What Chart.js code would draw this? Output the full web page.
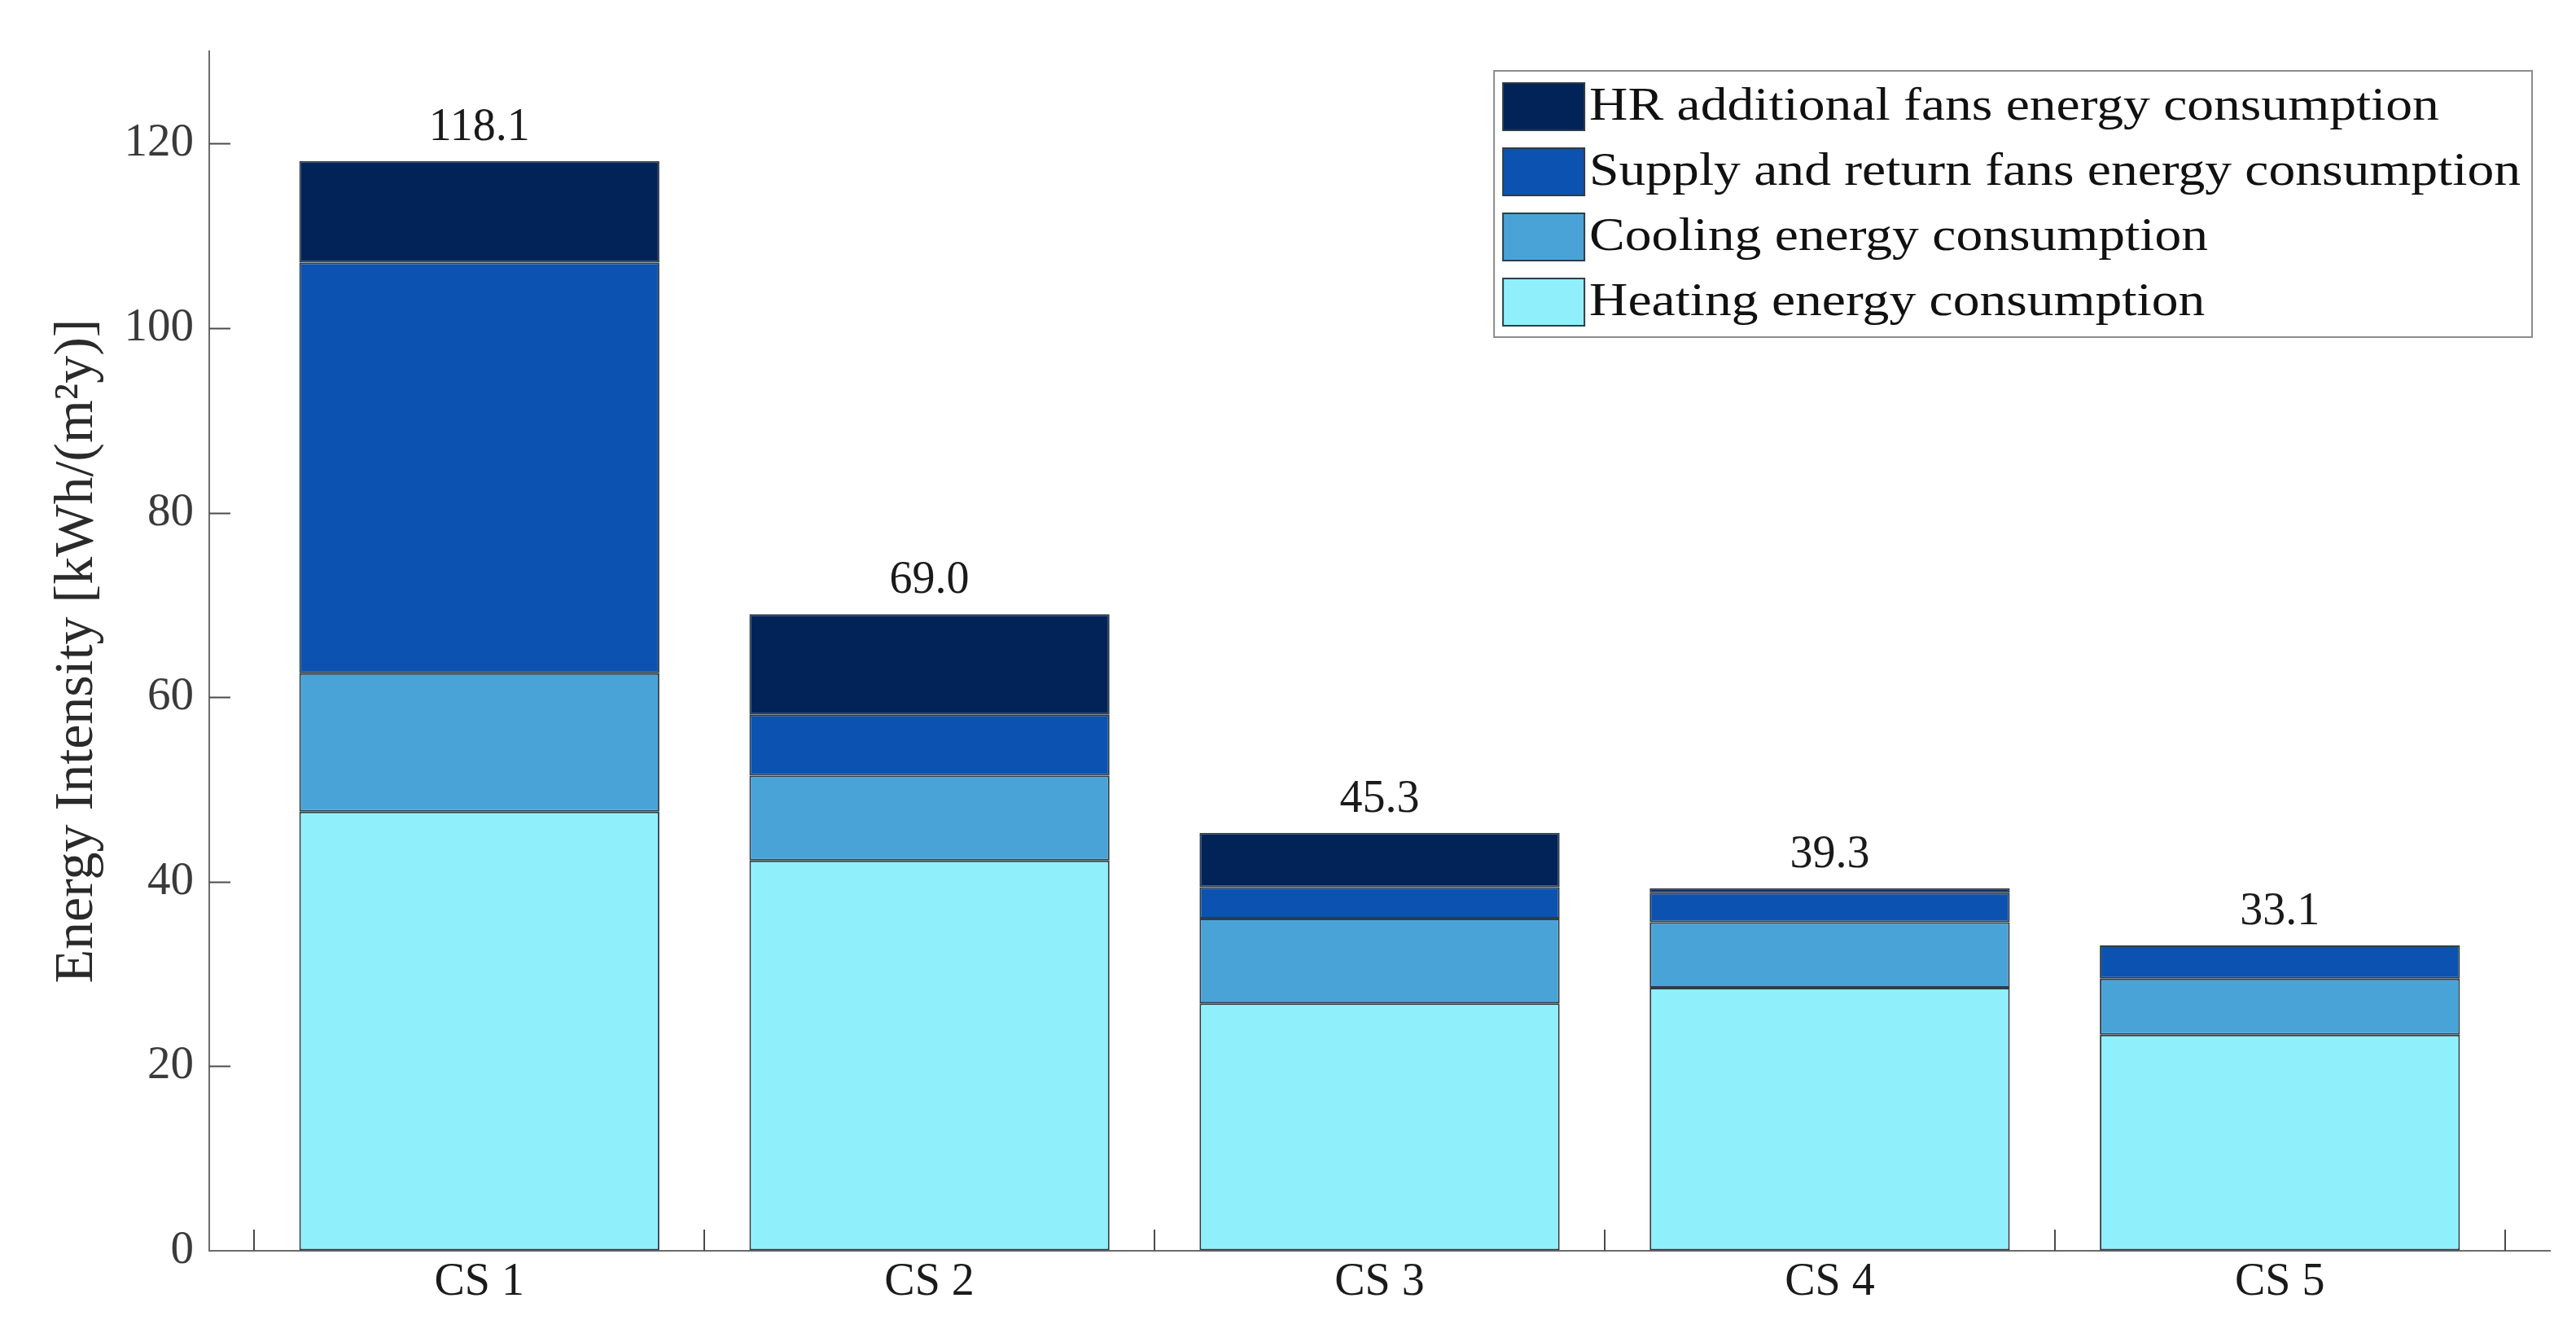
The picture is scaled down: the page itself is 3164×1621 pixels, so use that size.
<!DOCTYPE html>
<html>
<head>
<meta charset="utf-8">
<script src="https://cdn.jsdelivr.net/npm/chart.js@4.4.1/dist/chart.umd.min.js"></script>
<style>
  html, body { margin: 0; padding: 0; background: #ffffff; }
  canvas { display: block; }
</style>
</head>
<body>
<canvas id="energyChart" width="3164" height="1621"></canvas>
<script>
// Dados (kWh/(m2 y))
const categories = ['CS 1', 'CS 2', 'CS 3', 'CS 4', 'CS 5'];
const heating = [47.6, 42.3, 26.8, 28.5, 23.4];
const cooling = [15.0, 9.2, 9.2, 7.1, 6.1];
const supplyReturnFans = [44.5, 6.6, 3.4, 3.2, 3.6];
const hrAdditionalFans = [11.0, 10.9, 5.9, 0.5, 0.0];
const yTicks = [0, 20, 40, 60, 80, 100, 120];

const seriesLabels = [
    'Heating energy consumption',
    'Cooling energy consumption',
    'Supply and return fans energy consumption',
    'HR additional fans energy consumption'
];
const seriesColors = ['#8ff0fb', '#4aa3d6', '#0c52b0', '#022358'];
const edgeColor = '#2e3d48';
const FONT = '"Liberation Serif", "Times New Roman", serif';

const toPoints = arr => arr.map((v, i) => ({ x: i + 1, y: v }));

// marcas de escala para dentro (estilo MATLAB)
const innerTicks = {
    id: 'innerTicks',
    afterDraw(chart) {
        const { ctx, scales: { x, y } } = chart;
        ctx.save();
        ctx.strokeStyle = '#4a4a4a';
        ctx.lineWidth = 2;
        yTicks.forEach(v => {
            if (v === 0) return;
            const py = Math.round(y.getPixelForValue(v)) + 0.5;
            ctx.beginPath();
            ctx.moveTo(x.left, py);
            ctx.lineTo(x.left + 26, py);
            ctx.stroke();
        });
        for (let i = 0; i <= categories.length; i++) {
            const px = Math.round(x.getPixelForValue(i + 0.5));
            ctx.beginPath();
            ctx.moveTo(px, y.bottom);
            ctx.lineTo(px, y.bottom - 26);
            ctx.stroke();
        }
        ctx.restore();
    }
};

// totais acima das barras
const totalLabels = {
    id: 'totalLabels',
    afterDatasetsDraw(chart) {
        const { ctx, scales: { x, y } } = chart;
        ctx.save();
        ctx.font = '56px ' + FONT;
        ctx.fillStyle = '#1a1a1a';
        ctx.textAlign = 'center';
        ctx.textBaseline = 'alphabetic';
        categories.forEach((c, i) => {
            const total = heating[i] + cooling[i] + supplyReturnFans[i] + hrAdditionalFans[i];
            const txt = (Math.round(total * 10) / 10).toFixed(1);
            ctx.fillText(txt, x.getPixelForValue(i + 1), y.getPixelForValue(total) - 26);
        });
        ctx.restore();
    }
};

// legenda com moldura dentro da área do gráfico (canto superior direito)
const boxedLegend = {
    id: 'boxedLegend',
    afterDraw(chart) {
        const { ctx, chartArea } = chart;
        const stretch = 1.15;
        const padL = 11, padR = 14, padT = 15, padB = 14;
        const markW = 100, markH = 58, gap = 6, rowH = 80;
        const items = chart.data.datasets.map((d, i) => ({ label: d.label, color: d.backgroundColor })).reverse();

        ctx.save();
        ctx.font = '57px ' + FONT;
        const textW = Math.max(...items.map(it => ctx.measureText(it.label).width)) * stretch;
        const boxW = padL + markW + gap + textW + padR;
        const boxH = padT + (items.length - 1) * rowH + markH + padB;
        const boxX = chartArea.right - 22 - boxW;
        const boxY = chartArea.top + 24;

        ctx.fillStyle = '#ffffff';
        ctx.fillRect(boxX, boxY, boxW, boxH);
        ctx.strokeStyle = '#8c8c8c';
        ctx.lineWidth = 2;
        ctx.strokeRect(boxX, boxY, boxW, boxH);

        items.forEach((it, i) => {
            const my = boxY + padT + i * rowH;
            ctx.fillStyle = it.color;
            ctx.fillRect(boxX + padL, my, markW, markH);
            ctx.strokeStyle = edgeColor;
            ctx.lineWidth = 2;
            ctx.strokeRect(boxX + padL, my, markW, markH);

            ctx.save();
            ctx.translate(boxX + padL + markW + gap, my + markH / 2 + 16);
            ctx.scale(stretch, 1);
            ctx.fillStyle = '#111111';
            ctx.textAlign = 'left';
            ctx.textBaseline = 'alphabetic';
            ctx.fillText(it.label, 0, 0);
            ctx.restore();
        });
        ctx.restore();
    }
};

const seriesData = [heating, cooling, supplyReturnFans, hrAdditionalFans];

const energyCtx = document.getElementById('energyChart').getContext('2d');
const energyChart = new Chart(energyCtx, {
    type: 'bar',
    data: {
        datasets: seriesData.map((arr, i) => ({
            label: seriesLabels[i],
            data: toPoints(arr),
            backgroundColor: seriesColors[i],
            borderColor: edgeColor,
            borderWidth: 2,
            borderSkipped: false,
            barPercentage: 0.8,
            categoryPercentage: 1.0
        }))
    },
    options: {
        responsive: false,
        animation: false,
        devicePixelRatio: 1,
        layout: { padding: { top: 63, right: 32, left: 0, bottom: 0 } },
        plugins: {
            legend: { display: false },
            tooltip: { enabled: false }
        },
        scales: {
            x: {
                type: 'linear',
                stacked: true,
                offset: false,
                min: 0.4,
                max: 5.6,
                afterBuildTicks: scale => { scale.ticks = categories.map((c, i) => ({ value: i + 1 })); },
                afterFit: scale => { scale.height = 85; },
                grid: { offset: false, drawOnChartArea: false, drawTicks: false },
                border: { display: true, color: '#6b6b6b', width: 2 },
                ticks: {
                    padding: 6,
                    color: '#1a1a1a',
                    font: { family: FONT, size: 56 },
                    maxRotation: 0,
                    callback: v => categories[v - 1]
                }
            },
            y: {
                stacked: true,
                min: 0,
                max: 130,
                afterFit: scale => { scale.width = 257; },
                grid: { drawOnChartArea: false, drawTicks: false },
                border: { display: true, color: '#6b6b6b', width: 2 },
                ticks: {
                    stepSize: 20,
                    includeBounds: false,
                    padding: 19,
                    color: '#3a3a3a',
                    font: { family: FONT, size: 57 }
                },
                title: {
                    display: true,
                    text: 'Energy Intensity [kWh/(m²y)]',
                    color: '#2a2a2a',
                    font: { family: FONT, size: 68 },
                    padding: { top: 54, bottom: 0 }
                }
            }
        }
    },
    plugins: [innerTicks, totalLabels, boxedLegend]
});
</script>
</body>
</html>
